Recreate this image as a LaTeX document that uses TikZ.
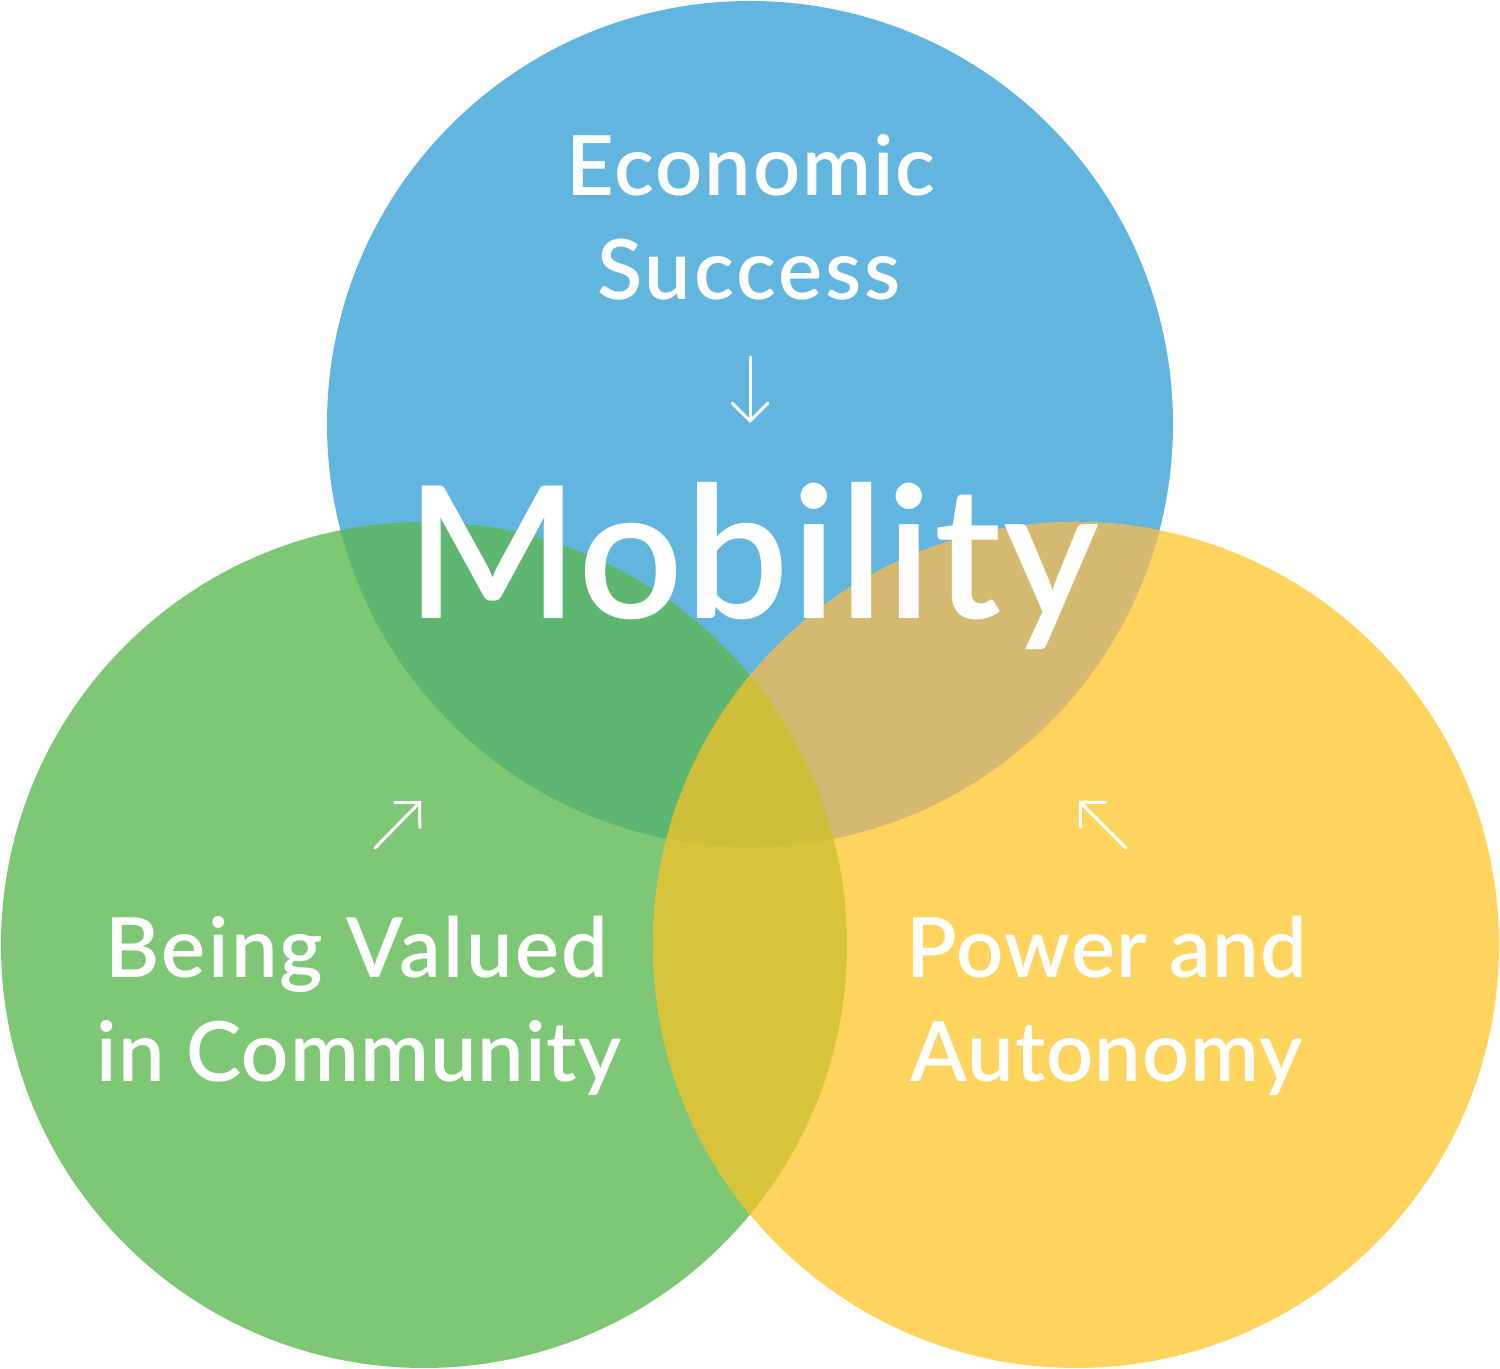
\documentclass[tikz,border=0pt]{standalone}
\usepackage{fontspec}
\usetikzlibrary{arrows.meta}
\IfFontExistsTF{Lato Semibold}
  {\newfontfamily\labfont{Lato Semibold}}
  {\newfontfamily\labfont{Lato}[FakeBold=1.5]}
\IfFontExistsTF{Lato Semibold}
  {\newfontfamily\bigfont{Lato Semibold}}
  {\newfontfamily\bigfont{Lato Bold}}
\newcommand{\trk}[1]{\addfontfeature{LetterSpace=#1}}
\definecolor{cblue}{HTML}{62B5DE}
\definecolor{cgreen}{HTML}{7EC875}
\definecolor{cyellow}{HTML}{FED45E}
\definecolor{cbg}{HTML}{5CB670}
\definecolor{cby}{HTML}{D6B970}
\definecolor{cgy}{HTML}{D8C43B}
\definecolor{cbgy}{HTML}{D0BE3D}
\begin{document}
\begin{tikzpicture}[x=0.5pt,y=0.5pt,
  lbl/.style={text=white,inner sep=0pt,anchor=base,font=\labfont\fontsize{41.5}{50}\selectfont},
  big/.style={text=white,inner sep=0pt,anchor=base,font=\bigfont\fontsize{92}{100}\selectfont},
  arr/.style={white,line width=1.5pt,line cap=round,-{Straight Barb[length=8.8pt,width=17.7pt,line cap=round]}}]
\useasboundingbox (0,0) rectangle (1500,1369);
\coordinate (B) at (750,945);
\coordinate (G) at (424,424);
\coordinate (Y) at (1076,424);
\def\R{423}
\fill[cblue] (B) circle[radius=\R];
\fill[cgreen] (G) circle[radius=\R];
\fill[cyellow] (Y) circle[radius=\R];
\begin{scope}
  \clip (B) circle[radius=\R];
  \fill[cbg] (G) circle[radius=\R];
  \fill[cby] (Y) circle[radius=\R];
\end{scope}
\begin{scope}
  \clip (G) circle[radius=\R];
  \fill[cgy] (Y) circle[radius=\R];
\end{scope}
\begin{scope}
  \clip (B) circle[radius=\R];
  \clip (G) circle[radius=\R];
  \fill[cbgy] (Y) circle[radius=\R];
\end{scope}
% texts
\node[lbl] (econ1) at (751,1173) {\trk{2.3}Economic};
\node[lbl] (econ2) at (749,1069) {\trk{3.5}Success};
\node[big] (mob) at (753,750) {\trk{1.2}Mobility};
\node[lbl] (val1) at (357,391) {\trk{2.8}Being Valued};
\node[lbl] (val2) at (359,287) {\trk{1.2}in Community};
\node[lbl] (pow1) at (1107,391) {\trk{1.6}Power and};
\node[lbl] (pow2) at (1107,287) {\trk{1.2}Autonomy};
% arrows
\coordinate (a1s) at (750,1012);
\coordinate (a1e) at (750,946);
\coordinate (a2s) at (375,521);
\coordinate (a2e) at (421,568);
\coordinate (a3s) at (1126,521);
\coordinate (a3e) at (1079,568);
\draw[arr] (a1s) -- (a1e);
\draw[arr] (a2s) -- (a2e);
\draw[arr] (a3s) -- (a3e);
\end{tikzpicture}
\end{document}
